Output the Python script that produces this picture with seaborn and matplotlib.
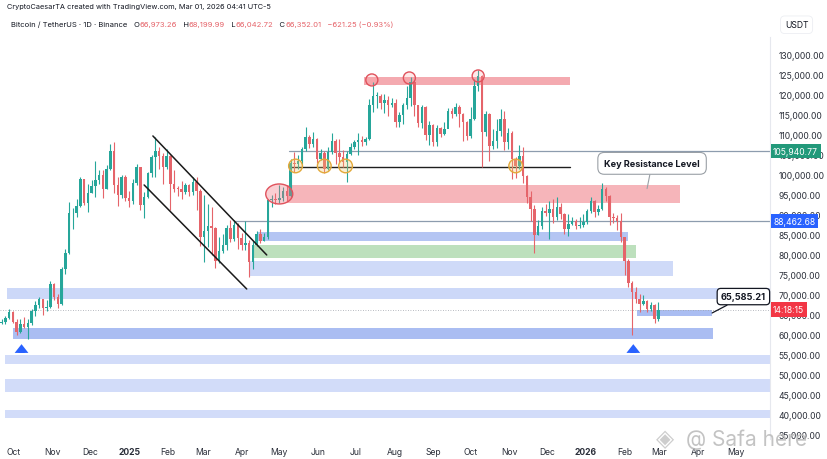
import matplotlib
matplotlib.use("Agg")
import matplotlib.pyplot as plt
import matplotlib.transforms as mtransforms
import matplotlib.dates as mdates
from matplotlib.patches import Ellipse
import seaborn as sns
import pandas as pd
import numpy as np

# BTC/USDT, 3-day candles in thousands of USDT (first bucket starts 2024-09-20)
first_open = 63.0
closes = [
    63.3, 64.2, 65.8, 63.3,
    60.8, 62.8, 62.1, 62.9, 66.1, 67.4, 69.0, 66.7, 67.0, 72.7,
    69.5, 67.8, 76.5, 80.4, 90.4, 90.6, 92.3, 98.9, 93.0, 95.6,
    97.2, 98.8, 99.9, 96.6, 101.4, 106.0, 97.5, 95.1, 99.4, 94.3, 93.4,
    98.1, 102.0, 92.5, 94.5, 100.5, 104.4, 106.1, 104.8, 102.0, 104.7,
    97.7, 96.6, 96.5, 95.8, 97.5, 95.8, 98.3, 96.1, 84.4,
    86.0, 87.2, 86.7, 78.5, 80.9, 82.6, 86.8, 84.0, 87.5, 84.3, 82.5,
    83.1, 78.2, 82.6, 85.2, 83.6, 84.4, 93.7, 93.9, 93.7, 94.2,
    96.0, 94.7, 103.0, 102.8, 103.5, 106.4, 109.6, 107.8, 108.9, 103.9,
    105.6, 101.6, 105.7, 108.6, 105.6, 104.6, 103.3, 105.3, 106.9, 108.3,
    108.8, 108.2, 108.9, 117.5, 119.8, 119.8, 117.9, 118.8, 117.6, 117.9,
    113.3, 115.0, 117.5, 119.3, 123.3, 117.4, 112.9, 116.9, 110.1, 112.5, 108.2,
    111.7, 110.2, 111.5, 116.0, 115.3, 117.1, 115.3, 113.3, 109.7, 114.0,
    122.2, 124.7, 110.7, 115.2, 107.2, 108.5, 111.0, 114.1, 108.3, 110.6,
    103.9, 102.3, 104.8, 99.7, 94.5, 91.5, 85.0, 87.3, 91.0, 90.4,
    91.5, 89.5, 92.0, 90.2, 86.5, 87.8, 88.6, 87.3, 87.5, 88.2,
    91.0, 93.5, 90.8, 91.6, 96.5, 94.8, 89.5, 89.3, 88.6, 84.5, 78.5,
    73.0, 70.8, 68.9, 67.8, 68.5, 66.6, 67.6, 64.0, 66.35,
]
highs = [
    64.1, 64.8, 66.5, 66.0,
    64.1, 64.0, 64.4, 64.1, 66.5, 68.4, 69.5, 69.0, 68.8, 73.6,
    73.0, 70.2, 76.9, 81.5, 93.2, 91.8, 94.0, 99.6, 98.9, 97.8,
    98.8, 103.6, 101.3, 101.2, 102.5, 107.8, 108.3, 99.5, 99.9, 99.9, 96.1,
    98.9, 102.7, 102.0, 95.8, 100.8, 105.0, 109.6, 107.0, 105.5, 106.4,
    105.0, 101.3, 97.3, 98.5, 98.0, 97.8, 99.5, 99.5, 96.5,
    95.0, 92.8, 92.0, 87.0, 84.4, 85.3, 87.5, 88.7, 88.8, 88.0, 85.5,
    88.5, 83.7, 83.5, 86.1, 86.4, 85.5, 93.9, 95.0, 95.6, 97.4,
    96.9, 97.6, 104.1, 105.7, 104.9, 107.1, 111.9, 110.0, 110.7, 109.2,
    106.5, 105.9, 107.0, 110.5, 109.0, 108.9, 106.2, 106.0, 108.1, 108.8,
    110.5, 109.8, 109.6, 118.9, 123.2, 120.8, 120.2, 120.2, 119.8, 119.3,
    118.9, 115.8, 117.9, 122.3, 124.5, 123.8, 117.6, 117.5, 117.2, 113.5, 112.8,
    112.6, 112.0, 113.3, 116.8, 116.7, 117.9, 117.5, 115.6, 113.6, 117.0,
    123.9, 126.2, 125.0, 115.9, 115.5, 111.5, 114.0, 116.4, 116.1, 111.8,
    111.1, 104.5, 107.5, 107.0, 100.0, 96.0, 92.5, 88.8, 92.0, 92.8,
    93.5, 94.0, 94.5, 93.0, 90.5, 90.3, 89.5, 89.0, 89.4, 90.2,
    91.5, 94.5, 93.8, 92.5, 97.9, 97.0, 95.0, 90.5, 90.0, 90.4, 84.5,
    79.0, 73.5, 72.0, 70.2, 70.0, 68.8, 68.3, 67.8, 68.2,
]
lows = [
    62.7, 62.7, 63.9, 62.9,
    60.0, 60.5, 61.8, 58.9, 62.4, 64.8, 66.7, 65.1, 66.0, 66.8,
    68.8, 66.8, 67.5, 75.3, 80.3, 86.6, 89.4, 92.0, 92.6, 90.8,
    95.4, 94.5, 97.8, 94.2, 96.6, 101.2, 95.6, 92.2, 94.2, 93.4, 91.9,
    92.8, 97.5, 91.2, 89.3, 94.3, 99.5, 99.5, 101.5, 97.8, 101.5,
    91.2, 95.8, 94.7, 94.1, 95.2, 94.8, 95.0, 91.3, 82.3,
    78.2, 82.0, 80.0, 76.7, 78.0, 80.5, 81.3, 83.2, 83.5, 81.6, 81.3,
    81.2, 74.5, 76.4, 82.3, 83.1, 83.4, 83.9, 92.1, 92.8, 92.9,
    93.4, 93.4, 94.5, 100.7, 101.4, 102.1, 105.9, 106.7, 107.0, 103.1,
    103.7, 100.4, 101.2, 105.3, 102.7, 103.2, 101.9, 98.2, 105.0, 106.5,
    105.1, 107.3, 107.5, 108.8, 115.8, 116.7, 116.5, 115.6, 114.7, 116.9,
    112.0, 111.9, 112.8, 116.4, 117.2, 114.7, 112.0, 111.7, 108.8, 107.4, 107.3,
    107.2, 109.4, 110.0, 113.5, 114.3, 114.7, 111.9, 108.6, 108.7, 109.3,
    113.8, 121.0, 102.0, 109.7, 103.6, 106.4, 106.7, 109.8, 106.3, 106.5,
    98.9, 99.3, 101.5, 98.0, 93.0, 88.6, 80.6, 84.9, 86.5, 89.8,
    83.9, 88.0, 88.8, 89.0, 85.2, 84.8, 87.5, 86.6, 86.8, 86.9,
    87.8, 90.6, 89.5, 90.0, 91.2, 93.5, 87.6, 88.0, 86.3, 83.2, 75.0,
    72.0, 60.0, 68.0, 65.8, 67.5, 65.8, 66.0, 62.9, 63.5,
]

price_ticks = [35, 40, 45, 50, 55, 60, 65, 70, 75, 80, 85, 90, 95,
               100, 105, 110, 115, 120, 125, 130]
month_starts = ['2024-10-01', '2024-11-01', '2024-12-01', '2025-01-01',
                '2025-02-01', '2025-03-01', '2025-04-01', '2025-05-01',
                '2025-06-01', '2025-07-01', '2025-08-01', '2025-09-01',
                '2025-10-01', '2025-11-01', '2025-12-01', '2026-01-01',
                '2026-02-01', '2026-03-01', '2026-04-01', '2026-05-01']
month_labels = ['Oct', 'Nov', 'Dec', '2025', 'Feb', 'Mar', 'Apr', 'May',
                'Jun', 'Jul', 'Aug', 'Sep', 'Oct', 'Nov', 'Dec', '2026',
                'Feb', 'Mar', 'Apr', 'May']

X_LEFT = pd.Timestamp('2024-09-19 19:00')
X_RIGHT = pd.Timestamp('2026-05-28 07:00')

# drawn zones: start, end, low, high, colour
zones = [
    ('2025-07-08', '2025-12-19', 122.5, 124.5, '#f4aab0'),
    ('2025-05-07', '2026-03-17', 93.0, 97.5, '#f6b5ba'),
    ('2025-04-14', '2026-02-04', 83.5, 85.7, '#b4c5f3'),
    ('2025-04-10', '2026-02-10', 79.25, 82.5, '#bde0bd'),
    ('2025-04-07', '2026-03-12', 74.75, 78.5, '#cfdaf8'),
    ('2024-09-25', X_RIGHT, 69.0, 71.75, '#ccd8f8'),
    ('2026-02-11', '2026-04-12', 64.75, 66.25, '#aabdf2'),
    ('2024-09-30', '2026-04-13', 59.0, 61.75, '#aabdf2'),
    ('2024-09-24', X_RIGHT, 52.75, 55.0, '#d2dcf9'),
    ('2024-09-24', X_RIGHT, 45.75, 49.0, '#d2dcf9'),
    ('2024-09-24', X_RIGHT, 39.25, 41.25, '#d2dcf9'),
]

GREEN = '#26a69a'
RED = '#e5646a'
DARK = '#131722'

sns.set_theme(style="white")
plt.rcParams['font.family'] = ['Inter', 'DejaVu Sans']

fig = plt.figure(figsize=(8.28, 4.6), dpi=100)
ax = fig.add_axes([0.0, 0.0435, 0.93, 0.874])

# zones
for start, end, lo, hi, col in zones:
    xs = pd.to_datetime([start, end])
    ax.fill_between(xs, lo, hi, color=col, lw=0, zorder=1)

# horizontal levels
ax.plot(pd.to_datetime(['2025-05-09', X_RIGHT]), [105.94077, 105.94077],
        color='#8d9cae', lw=0.9, zorder=2)
ax.plot(pd.to_datetime(['2025-03-26', X_RIGHT]), [88.46268, 88.46268],
        color='#8d9cae', lw=0.9, zorder=2)
ax.plot(pd.to_datetime(['2025-05-09', '2025-12-19']), [102.0, 102.0],
        color='#1f1f1f', lw=1.0, zorder=2)
ax.axhline(closes[-1], color='#a0a4ad', lw=0.6, ls=(0, (1, 2)), zorder=2)

# candles
dates = pd.date_range('2024-09-20', periods=len(closes), freq='3D') + pd.Timedelta(days=1)
opens = [first_open] + closes[:-1]
df = pd.DataFrame({'date': dates, 'open': opens, 'high': highs,
                   'low': lows, 'close': closes})
up = df['close'] >= df['open']
cols = np.where(up, GREEN, RED)
ax.vlines(df['date'], df['low'], df['high'], colors=cols, lw=0.8, zorder=3)
ax.bar(df['date'], (df['close'] - df['open']).abs().clip(lower=0.2),
       bottom=df[['open', 'close']].min(axis=1), width=2.0, color=cols,
       lw=0, zorder=4)

# descending channel
ax.plot(pd.to_datetime(['2025-01-20', '2025-04-21']), [109.75, 80.0],
        color='#1a1a1a', lw=1.1, zorder=5)
ax.plot(pd.to_datetime(['2025-01-13', '2025-04-05']), [97.5, 71.5],
        color='#1a1a1a', lw=1.1, zorder=5)

# circles
def ring(date, price, w, h, edge, face):
    e = Ellipse((mdates.date2num(pd.Timestamp(date)), price), w, h,
                fc=face, ec=edge, lw=1.0, zorder=6)
    ax.add_patch(e)

for d, p in [('2025-07-14', 123.75), ('2025-08-13', 124.25), ('2025-10-07', 124.75)]:
    ring(d, p, 9.6, 3.0, '#e0525c', (1, 0.6, 0.6, 0.2))
for d in ['2025-05-14', '2025-06-06', '2025-06-23', '2025-11-06']:
    ring(d, 102.25, 11.0, 3.4, '#e3a93a', (0.95, 0.8, 0.45, 0.3))
ring('2025-05-01', 95.25, 21.6, 5.0, '#e0525c', (0.95, 0.45, 0.5, 0.35))

# arrows
for d in ['2024-10-07', '2026-02-08']:
    dd = pd.Timestamp(d)
    ax.annotate('', xy=(dd, 58.4), xytext=(dd, 54.8),
                arrowprops=dict(arrowstyle='simple,head_width=1.1,head_length=0.7,tail_width=0.5',
                                color='#2962ff', lw=0, mutation_scale=9),
                zorder=7)

# callouts
ax.annotate('Key Resistance Level', xy=(pd.Timestamp('2026-02-19'), 96.6),
            xytext=(pd.Timestamp('2026-02-23'), 102.9), ha='center', va='center',
            fontsize=6.6, fontweight='bold', color=DARK,
            bbox=dict(boxstyle='round,pad=0.7', fc='white', ec='#9aa0a6', lw=0.8),
            arrowprops=dict(arrowstyle='-', color='#9aa0a6', lw=0.8,
                            shrinkA=0, shrinkB=0), zorder=8)
ax.annotate('65,585.21', xy=(pd.Timestamp('2026-04-12'), 65.5),
            xytext=(pd.Timestamp('2026-05-07'), 69.6), ha='center', va='center',
            fontsize=6.6, fontweight='bold', color=DARK,
            bbox=dict(boxstyle='round,pad=0.4', fc='white', ec=DARK, lw=0.9),
            arrowprops=dict(arrowstyle='-', color=DARK, lw=0.9,
                            shrinkA=0, shrinkB=0), zorder=8)

# axes
ax.set_xlim(X_LEFT, X_RIGHT)
ax.set_ylim(34.0, 134.5)
ax.yaxis.tick_right()
ax.set_yticks(price_ticks)
ax.set_yticklabels([f'{v * 1000:,.2f}' for v in price_ticks])
ax.set_xticks(pd.to_datetime(month_starts))
ax.set_xticklabels(month_labels)
for lbl in ax.get_xticklabels():
    if lbl.get_text() in ('2025', '2026'):
        lbl.set_fontweight('bold')
ax.tick_params(axis='y', length=0, pad=6, labelsize=6.2, labelcolor='#2a2e39')
ax.tick_params(axis='x', length=0, pad=6, labelsize=6.2, labelcolor='#2a2e39')
for s in ['top', 'left', 'bottom']:
    ax.spines[s].set_visible(False)
ax.spines['right'].set_color('#e6e8ee')
ax.spines['right'].set_linewidth(0.8)
ax.grid(False)

# price scale labels
trans = mtransforms.blended_transform_factory(ax.transAxes, ax.transData)
for val, txt, col in [(105.94077, '105,940.77', '#22997a'),
                      (88.46268, '88,462.68', '#2962ff'),
                      (closes[-1], '14:18:15', '#f23645')]:
    ax.text(1.004, val, txt, transform=trans, ha='left', va='center',
            fontsize=6.2, color='white', clip_on=False, zorder=9,
            bbox=dict(boxstyle='square,pad=0.3', fc=col, ec='none'))

# header
fig.text(0.008, 0.984, 'CryptoCaesarTA created with TradingView.com, Mar 01, 2026 04:41 UTC-5',
         fontsize=5.3, color=DARK, va='center', ha='left')
parts = [('Bitcoin / TetherUS · 1D · Binance   ', DARK), ('O', DARK),
         ('66,973.26', RED), ('   H', DARK), ('68,199.99', RED),
         ('   L', DARK), ('66,042.72', RED), ('   C', DARK),
         ('66,352.01', RED), ('   −621.25 (−0.93%)', RED)]
prev = fig.text(0.013, 0.946, parts[0][0], fontsize=5.5, color=parts[0][1],
                va='center', ha='left')
for txt, col in parts[1:]:
    prev = ax.annotate(txt, xy=(1, 0.5), xycoords=prev, va='center', ha='left',
                       fontsize=5.5, color=col, annotation_clip=False)
fig.text(0.962, 0.944, 'USDT', fontsize=6.2, color=DARK, ha='center', va='center',
         bbox=dict(boxstyle='round,pad=0.5', fc='white', ec='#eceef2', lw=0.6))

# watermark
fig.text(0.828, 0.03, '@ Safa here', fontsize=15, color='#bdbdbd', ha='left',
         va='baseline', alpha=0.9)
fig.text(0.803, 0.03, '◈', fontsize=17, color='#c8c8c8', ha='center',
         va='baseline', alpha=0.9)

fig.savefig('out.png', dpi=100)
